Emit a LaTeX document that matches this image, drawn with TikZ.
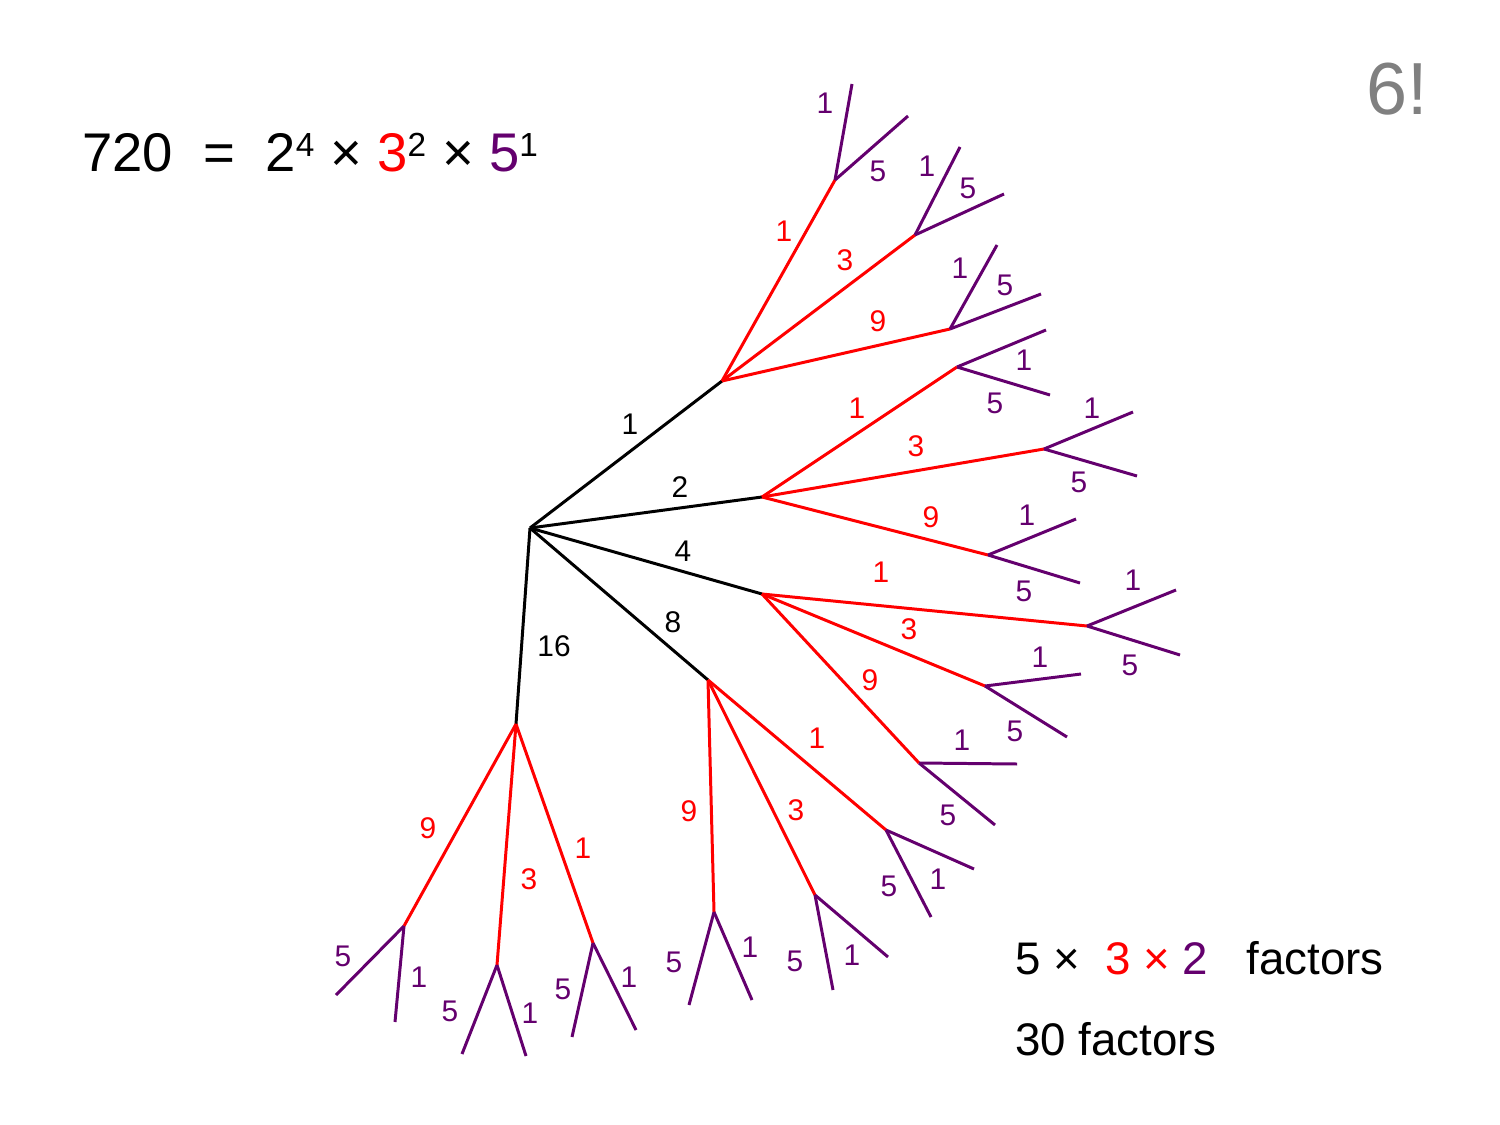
\documentclass[tikz,border=0pt]{standalone}
\usepackage{fontspec}
\setmainfont{Liberation Sans}
\definecolor{pur}{RGB}{100,0,110}
\definecolor{gr}{RGB}{128,128,128}
\begin{document}
\begin{tikzpicture}[x=0.02cm,y=-0.02cm,
  blk/.style={black,line width=1.7pt},
  rd/.style={red,line width=1.7pt},
  pu/.style={pur,line width=1.7pt},
  lb/.style={font=\fontsize{17}{17}\selectfont,inner sep=0pt},
  lbk/.style={lb,black},lrd/.style={lb,red},lpu/.style={lb,pur}]
\useasboundingbox (0,0) rectangle (1500,1125);
\node[anchor=base west,inner sep=0pt,font=\fontsize{31}{31}\selectfont] (eq) at (82,172) {720\ \ =\ \ 2$^{\mbox{\fontsize{19}{19}\selectfont 4}}$ × \textcolor{red}{3}$^{\mbox{\fontsize{19}{19}\selectfont 2}}$ × \textcolor{pur}{5}$^{\mbox{\fontsize{19}{19}\selectfont 1}}$};
\node[anchor=base east,inner sep=0pt,gr,font=\fontsize{42}{42}\selectfont] (fact) at (1428,115) {6!};
\node[anchor=base west,inner sep=0pt,font=\fontsize{26}{26}\selectfont] (f1) at (1015,974) {5 ×\ \ \textcolor{red}{3 ×}\ \textcolor{pur}{2}\ \ \ factors};
\node[anchor=base west,inner sep=0pt,font=\fontsize{26}{26}\selectfont] (f2) at (1015,1055) {30 factors};
\coordinate (R) at (530,528);
\foreach \n/\p in {A1/{722,381},A2/{762,497},A4/{762,594},A8/{708,680},A16/{516,724}} \coordinate (\n) at (\p);
\foreach \n/\l/\p in {A1/1/{630,424},A2/2/{680,487},A4/4/{683,551},A8/8/{673,622},A16/16/{554,646}}{
  \draw[blk] (R) -- (\n); \node[lbk] (L\n) at (\p) {\l};}
\foreach \a/\e/\l/\lp/\pa/\pal/\pb/\pbl/\la/\lb in {
 A1/{835,180}/1/{784,231}/{852,84}/1/{908,116}/5/{825,103}/{878,171},
 A1/{915,235}/3/{845,260}/{960,147}/1/{1004,194}/5/{927,166}/{968,188},
 A1/{950,329}/9/{878,321}/{997,245}/1/{1041,294}/5/{960,268}/{1005,285},
 A2/{957,367}/1/{857,408}/{1046,330}/1/{1050,395}/5/{1024,360}/{995,403},
 A2/{1044,449}/3/{916,446}/{1133,412}/1/{1137,476}/5/{1092,408}/{1079,482},
 A2/{988,555}/9/{931,517}/{1076,519}/1/{1080,583}/5/{1027,515}/{1024,591},
 A4/{1087,626}/1/{881,572}/{1176,590}/1/{1180,655}/5/{1133,580}/{1130,665},
 A4/{985,686}/3/{909,629}/{1081,674}/1/{1067,737}/5/{1040,657}/{1015,731},
 A4/{919,763}/9/{870,680}/{1017,764}/1/{995,825}/5/{962,740}/{948,815},
 A8/{886,830}/1/{817,738}/{974,869}/1/{931,917}/5/{938,879}/{889,886},
 A8/{815,895}/3/{796,810}/{888,957}/1/{833,990}/5/{852,955}/{795,961},
 A8/{714,912}/9/{689,811}/{752,1000}/1/{689,1005}/5/{750,947}/{674,962},
 A16/{404,926}/9/{428,828}/{395,1022}/1/{336,995}/5/{419,977}/{343,956},
 A16/{497,965}/3/{529,879}/{526,1056}/1/{462,1054}/5/{530,1013}/{450,1011},
 A16/{593,943}/1/{583,848}/{636,1030}/1/{572,1037}/5/{629,977}/{563,989}}{
  \coordinate (E) at (\e); \coordinate (P) at (\pa); \coordinate (Q) at (\pb);
  \draw[rd] (\a) -- (E); \node[lrd] (lr) at (\lp) {\l};
  \draw[pu] (E) -- (P); \draw[pu] (E) -- (Q);
  \node[lpu] (la) at (\la) {\pal}; \node[lpu] (lb) at (\lb) {\pbl};}
\end{tikzpicture}
\end{document}
